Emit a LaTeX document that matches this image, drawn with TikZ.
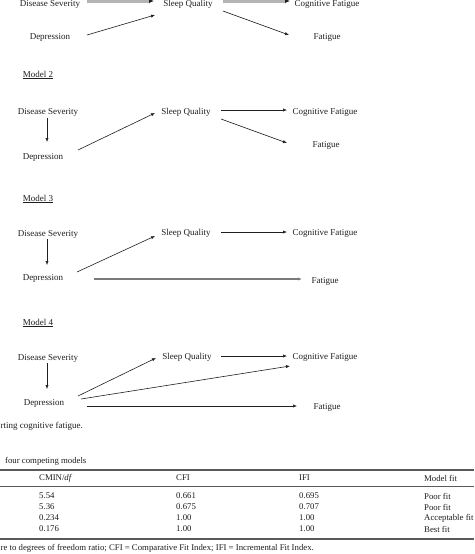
\documentclass[tikz,border=0pt]{standalone}
\usepackage{fontspec}
\setmainfont{Liberation Serif}
\usepackage{tikz}
\usetikzlibrary{calc,arrows.meta}
\definecolor{ink}{HTML}{1E1E1E}
\definecolor{paleline}{HTML}{B4B4B4}
\definecolor{midline}{HTML}{7A7A7A}
\definecolor{rulegray}{HTML}{5A5A5A}

\begin{document}
\begin{tikzpicture}[x=1pt,y=-1pt,every node/.style={inner sep=0pt,text=ink,font=\fontsize{9}{11}\selectfont},
link/.style={draw=ink,line width=0.6pt,-{Latex[length=4pt,width=3.2pt]}},
heavy/.style={draw=paleline,line width=4pt,-{Latex[length=5pt,width=4.5pt,color=ink]}},
tab/.style={anchor=west,font=\fontsize{8.75}{10}\selectfont}]
\useasboundingbox (0,0) rectangle (474,554);\clip (0,0) rectangle (474,554);
% model 1
\node (ds1) at (50,4.5){Disease Severity};\node (sq1) at (188,4.5){Sleep Quality};\node (cf1) at (327,4.5){Cognitive Fatigue};
\node (dep1) at (50,37){Depression};\node (fat1) at (327,37){Fatigue};
\draw[heavy] ($(ds1)+(37,-3.5)$)--($(sq1)+(-34,-3.5)$);
\draw[heavy] ($(sq1)+(35,-3.5)$)--($(cf1)+(-37,-3.5)$);
\draw[link] ($(dep1)+(37,-2)$)--($(sq1)+(-33,10.5)$);
\draw[link] ($(sq1)+(35,6.5)$)--($(fat1)+(-38,-2)$);
% model 2
\node (m2) at (38,75){\underline{Model 2}};
\node (ds2) at (48,112){Disease Severity};\node (sq2) at (186,112){Sleep Quality};\node (cf2) at (325,112){Cognitive Fatigue};
\node (dep2) at (43,157){Depression};\node (fat2) at (326,145){Fatigue};
\draw[link] ($(ds2)+(-1,6)$)--($(dep2)+(4,-15)$);
\draw[link] ($(dep2)+(35,-7)$)--($(sq2)+(-31,1)$);
\draw[link] ($(sq2)+(35,-2)$)--($(cf2)+(-38,-2)$);
\draw[link] ($(sq2)+(35,7)$)--($(fat2)+(-39,-2)$);
% model 3
\node (m3) at (38,199){\underline{Model 3}};
\node (ds3) at (48,234){Disease Severity};\node (sq3) at (186,233){Sleep Quality};\node (cf3) at (325,233){Cognitive Fatigue};
\node (dep3) at (43,278){Depression};\node (fat3) at (325,281){Fatigue};
\draw[link] ($(ds3)+(-1,5)$)--($(dep3)+(4,-13)$);
\draw[link] ($(dep3)+(34,-6)$)--($(sq3)+(-31,3)$);
\draw[link] ($(sq3)+(35,-1)$)--($(cf3)+(-38,-1)$);
\draw[link,draw=midline,line width=1.7pt] ($(dep3)+(51,1)$)--($(fat3)+(-23,-2)$);
% model 4
\node (m4) at (38,323){\underline{Model 4}};
\node (ds4) at (48,358){Disease Severity};\node (sq4) at (187,357){Sleep Quality};\node (cf4) at (325,357){Cognitive Fatigue};
\node (dep4) at (44,403){Depression};\node (fat4) at (327,407){Fatigue};
\draw[link] ($(ds4)+(-1,5)$)--($(dep4)+(3,-14)$);
\draw[link] ($(dep4)+(34,-7)$)--($(sq4)+(-31,1)$);
\draw[link] ($(dep4)+(37,-4)$)--($(cf4)+(-35,9)$);
\draw[link] ($(dep4)+(43,3)$)--($(fat4)+(-30,-1)$);
\draw[link] ($(sq4)+(34,-1)$)--($(cf4)+(-38,-1)$);
\node[anchor=west] (cap) at (0.5,426){rting cognitive fatigue.};
% table
\node[tab] (tcap) at (5,461){four competing models};
\draw[rulegray,line width=1.2pt] (0,470)--(474,470);
\node[tab] (h1) at (39,478){CMIN/\textit{df}};\node[tab] (h2) at (176,478){CFI};\node[tab] (h3) at (299,478){IFI};\node[tab] (h4) at (424,478){Model fit};
\draw[rulegray,line width=0.6pt] (0,486)--(474,486);
\node[tab] (a1) at (39,496){5.54};\node[tab] (a2) at (176,496){0.661};\node[tab] (a3) at (299,496){0.695};\node[tab] (a4) at (424,496){Poor fit};
\node[tab] (b1) at (39,507){5.36};\node[tab] (b2) at (176,507){0.675};\node[tab] (b3) at (299,507){0.707};\node[tab] (b4) at (424,507){Poor fit};
\node[tab] (c1) at (39,518){0.234};\node[tab] (c2) at (176,518){1.00};\node[tab] (c3) at (299,518){1.00};\node[tab] (c4) at (424,518){Acceptable fit};
\node[tab] (d1) at (39,529){0.176};\node[tab] (d2) at (176,529){1.00};\node[tab] (d3) at (299,529){1.00};\node[tab] (d4) at (424,529){Best fit};
\draw[rulegray,line width=1.2pt] (0,539)--(474,539);
\node[tab] (note) at (0.5,548){re to degrees of freedom ratio; CFI = Comparative Fit Index; IFI = Incremental Fit Index.};
\end{tikzpicture}
\end{document}
